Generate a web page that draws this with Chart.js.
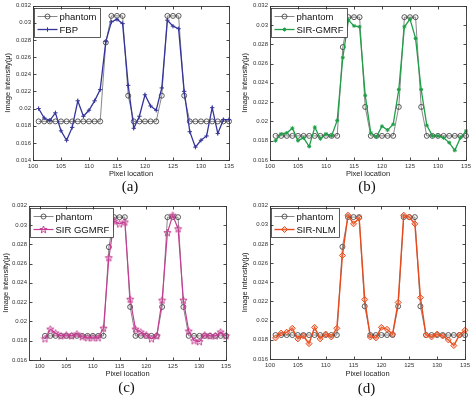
<!DOCTYPE html>
<html><head><meta charset="utf-8">
<script src="https://cdn.jsdelivr.net/npm/chart.js@4"></script>
<style>
body{margin:0;background:#fff;width:474px;height:399px;position:relative;overflow:hidden}
canvas{position:absolute}
</style></head><body>
<canvas id="ca" width="237" height="200" style="left:0;top:0"></canvas>
<canvas id="cb" width="237" height="200" style="left:237px;top:0"></canvas>
<canvas id="cc" width="237" height="199" style="left:0;top:200px"></canvas>
<canvas id="cd" width="237" height="199" style="left:237px;top:200px"></canvas>
<script>
// ---------- data ----------
const pixels = [101,102,103,104,105,106,107,108,109,110,111,112,113,114,115,116,117,118,119,120,121,122,123,124,125,126,127,128,129,130,131,132,133,134,135];
const phantom = [0.0185,0.0185,0.0185,0.0185,0.0185,0.0185,0.0185,0.0185,0.0185,0.0185,0.0185,0.0185,0.0277,0.0308,0.0308,0.0308,0.0215,0.0185,0.0185,0.0185,0.0185,0.0185,0.0215,0.0308,0.0308,0.0308,0.0215,0.0185,0.0185,0.0185,0.0185,0.0185,0.0185,0.0185,0.0185];
const fbp = [0.0200,0.0189,0.0186,0.0195,0.0174,0.0163,0.0178,0.0209,0.0191,0.0198,0.0209,0.0222,0.0278,0.0301,0.0304,0.0299,0.0227,0.0177,0.0191,0.0216,0.0203,0.0198,0.0224,0.0303,0.0296,0.0293,0.0220,0.0173,0.0155,0.0163,0.0168,0.0201,0.0171,0.0187,0.0187];
const sirGMRF = [0.0180,0.0187,0.0188,0.0193,0.0180,0.0183,0.0174,0.0194,0.0182,0.0187,0.0185,0.0201,0.0266,0.0305,0.0299,0.0298,0.0227,0.0188,0.0184,0.0195,0.0191,0.0197,0.0233,0.0298,0.0306,0.0286,0.0233,0.0196,0.0185,0.0185,0.0183,0.0178,0.0170,0.0183,0.0190];
const sirGGMRF = [0.0182,0.0192,0.0188,0.0185,0.0186,0.0185,0.0187,0.0184,0.0183,0.0183,0.0183,0.0193,0.0266,0.0304,0.0301,0.0303,0.0223,0.0192,0.0189,0.0186,0.0182,0.0185,0.0222,0.0292,0.0310,0.0296,0.0222,0.0190,0.0180,0.0179,0.0186,0.0185,0.0185,0.0189,0.0185];
const sirNLM = [0.0182,0.0187,0.0188,0.0192,0.0181,0.0184,0.0176,0.0193,0.0181,0.0186,0.0183,0.0192,0.0268,0.0310,0.0301,0.0307,0.0222,0.0183,0.0182,0.0193,0.0191,0.0186,0.0219,0.0310,0.0308,0.0301,0.0224,0.0185,0.0183,0.0186,0.0184,0.0180,0.0174,0.0185,0.0190];
const xTicks = [100,105,110,115,120,125,130,135];
const yTicksA = [0.014,0.016,0.018,0.020,0.022,0.024,0.026,0.028,0.030,0.032];
const yTicksB = [0.016,0.018,0.020,0.022,0.024,0.026,0.028,0.030,0.032];
const panelLabels = ['(a)','(b)','(c)','(d)'];
const methodNames = ['FBP','SIR-GMRF','SIR GGMRF','SIR-NLM'];

// ---------- styling ----------
const SANS = '"Liberation Sans", Arial, sans-serif';
const SERIF = '"Liberation Serif", "Times New Roman", serif';

function pentagram(color){
  const c = document.createElement('canvas'); c.width = 9; c.height = 9;
  const g = c.getContext('2d'); g.strokeStyle = color; g.lineWidth = 1;
  g.beginPath();
  for (let i = 0; i < 10; i++) {
    const r = i % 2 ? 1.6 : 3.8, a = -Math.PI/2 + i*Math.PI/5;
    const x = 4.5 + r*Math.cos(a), y = 4.8 + r*Math.sin(a);
    i ? g.lineTo(x, y) : g.moveTo(x, y);
  }
  g.closePath(); g.stroke();
  return c;
}

const frame = {
  id: 'frame',
  afterDraw(chart, args, o) {
    const ctx = chart.ctx, a = chart.chartArea, xs = chart.scales.x, ys = chart.scales.y;
    ctx.save();
    // legend box inside the axes (top-left)
    ctx.font = '9.5px ' + SANS;
    const items = chart.data.datasets;
    let tw = 0; items.forEach(d => tw = Math.max(tw, ctx.measureText(d.label).width));
    const x0 = Math.round(a.left) + 1.5, y0 = Math.round(a.top) + 2.5;
    const w = Math.round(26 + tw + 3), h = items.length * 13 + 3;
    ctx.fillStyle = '#fff'; ctx.fillRect(x0, y0, w, h);
    ctx.strokeStyle = '#333'; ctx.lineWidth = 0.8; ctx.strokeRect(x0, y0, w, h);
    items.forEach((d, i) => {
      const cy = y0 + 8 + i * 13;
      ctx.strokeStyle = d.borderColor; ctx.lineWidth = d.borderWidth;
      ctx.beginPath(); ctx.moveTo(x0 + 3, cy); ctx.lineTo(x0 + 23, cy); ctx.stroke();
      ctx.strokeStyle = d.pointBorderColor; ctx.fillStyle = d.pointBackgroundColor; ctx.lineWidth = d.pointBorderWidth;
      Chart.helpers.drawPoint(ctx, {pointStyle: d.pointStyle, rotation: 0, radius: d.pointRadius, borderWidth: d.pointBorderWidth}, x0 + 13, cy);
      ctx.fillStyle = '#111'; ctx.textBaseline = 'middle'; ctx.textAlign = 'left';
      ctx.font = '9.5px ' + SANS;
      ctx.fillText(d.label, x0 + 25, cy + 0.5);
    });
    // axes box
    ctx.strokeStyle = '#333'; ctx.lineWidth = 0.9;
    const L = Math.round(a.left) + 0.5, R = Math.round(a.right) + 0.5, T = Math.round(a.top) + 0.5, B = Math.round(a.bottom) + 0.5;
    ctx.strokeRect(L, T, R - L, B - T);
    ctx.beginPath();
    xs.ticks.forEach(t => {
      const p = Math.round(xs.getPixelForValue(t.value)) + 0.5;
      ctx.moveTo(p, B); ctx.lineTo(p, B - 3); ctx.moveTo(p, T); ctx.lineTo(p, T + 3);
    });
    ys.ticks.forEach(t => {
      const p = Math.round(ys.getPixelForValue(t.value)) + 0.5;
      ctx.moveTo(L, p); ctx.lineTo(L + 3, p); ctx.moveTo(R, p); ctx.lineTo(R - 3, p);
    });
    ctx.stroke();
    // panel label
    ctx.fillStyle = '#111'; ctx.font = '15px ' + SERIF; ctx.textAlign = 'center'; ctx.textBaseline = 'middle';
    ctx.fillText(o.label, (a.left + a.right) / 2 - 1, o.labelY);
    ctx.restore();
  }
};

function makeChart(id, idx, method, style, xMin, yTicks, area) {
  const cv = document.getElementById(id);
  const W = cv.width, H = cv.height;
  const toXY = arr => arr.map((v, i) => ({x: pixels[i], y: v}));
  new Chart(cv, {
    type: 'line',
    data: {
      datasets: [
        {label: 'phantom', data: toXY(phantom), borderColor: '#6a6a6a', borderWidth: 0.8,
         pointStyle: 'circle', pointRadius: 2.5, pointBorderColor: '#333', pointBackgroundColor: 'rgba(0,0,0,0)',
         pointBorderWidth: 0.8, tension: 0, order: 1, clip: false},
        Object.assign({label: methodNames[idx], data: toXY(method), tension: 0, order: 0, clip: false}, style)
      ]
    },
    options: {
      responsive: false, animation: false, devicePixelRatio: 1,
      layout: {autoPadding: false, padding: {left: 0, top: area.top, right: W - area.right, bottom: 0}},
      plugins: {legend: {display: false}, tooltip: {enabled: false},
                frame: {label: panelLabels[idx], labelY: area.labelY}},
      scales: {
        x: {type: 'linear', min: xMin, max: 135,
            afterBuildTicks: s => { s.ticks = xTicks.map(v => ({value: v})); },
            afterFit: s => { s.height = H - area.bottom; },
            grid: {display: false, drawTicks: false}, border: {display: false},
            ticks: {autoSkip: false, maxRotation: 0, padding: 3, color: '#333', font: {family: SANS, size: 6}},
            title: {display: true, text: 'Pixel location', color: '#222', font: {family: SANS, size: 7.5},
                    padding: {top: 0, bottom: H - 174 - 4.5}}},
        y: {type: 'linear', min: yTicks[0], max: yTicks[yTicks.length - 1],
            afterBuildTicks: s => { s.ticks = yTicks.map(v => ({value: v})); },
            afterFit: s => { s.width = area.left; },
            grid: {display: false, drawTicks: false}, border: {display: false},
            ticks: {autoSkip: false, padding: 2, color: '#333', font: {family: SANS, size: 6},
                    callback: v => String(Number(v.toFixed(3)))},
            title: {display: true, text: 'Image intensity(\u03bc)', color: '#222', font: {family: SANS, size: 7.5},
                    padding: {top: area.titlePad, bottom: 0}}}
      }
    },
    plugins: [frame]
  });
}

makeChart('ca', 0, fbp,
  {borderColor: '#34349a', borderWidth: 1.3, pointStyle: 'cross', pointRadius: 2.2, pointBorderColor: '#34349a',
   pointBackgroundColor: '#34349a', pointBorderWidth: 1},
  100, yTicksA, {left: 33, right: 232, top: 5, bottom: 160, labelY: 187, titlePad: 3});
makeChart('cb', 1, sirGMRF,
  {borderColor: '#1f9e48', borderWidth: 1.3, pointStyle: 'star', pointRadius: 2, pointBorderColor: '#1f9e48',
   pointBackgroundColor: '#1f9e48', pointBorderWidth: 1},
  100, yTicksB, {left: 33, right: 232, top: 5, bottom: 160, labelY: 187, titlePad: 3});
makeChart('cc', 2, sirGGMRF,
  {borderColor: '#c53d92', borderWidth: 1.2, pointStyle: pentagram('#c53d92'), pointRadius: 4, pointBorderColor: '#c53d92',
   pointBackgroundColor: '#c53d92', pointBorderWidth: 1},
  98, yTicksB, {left: 29, right: 226, top: 5, bottom: 160, labelY: 188, titlePad: 1});
makeChart('cd', 3, sirNLM,
  {borderColor: '#e84a1c', borderWidth: 1.4, pointStyle: 'rectRot', pointRadius: 3, pointBorderColor: '#e84a1c',
   pointBackgroundColor: 'rgba(244,140,100,0.35)', pointBorderWidth: 1},
  100, yTicksB, {left: 33, right: 228, top: 5, bottom: 159, labelY: 189, titlePad: 3});
</script>
</body></html>
